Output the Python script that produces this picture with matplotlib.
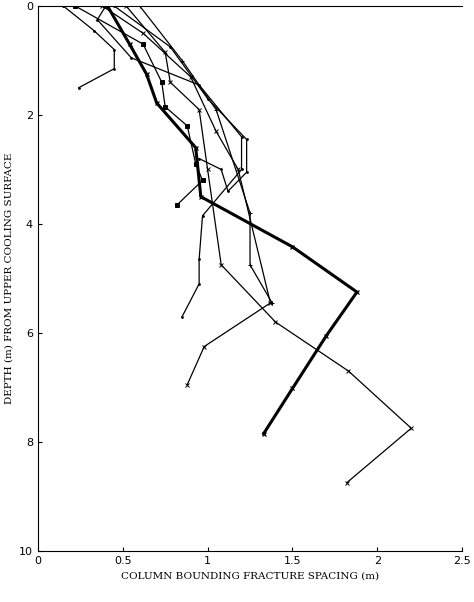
import matplotlib.pyplot as plt

# Fracture spacing (m) vs depth (m), one list per column profile
thick_x = [0.41, 0.54, 0.64, 0.70, 0.93, 0.96, 1.50, 1.88, 1.70, 1.50, 1.33]
thick_y = [0.0, 0.70, 1.25, 1.78, 2.60, 3.50, 4.42, 5.25, 6.05, 7.02, 7.85]

s1_x = [0.38, 0.62, 0.90, 1.05, 1.18, 1.37, 0.98, 0.88]
s1_y = [0.0, 0.50, 1.30, 2.30, 3.00, 5.45, 6.25, 6.95]
s2_x = [0.52, 0.75, 0.78, 0.95, 1.00, 1.08, 1.40, 1.83, 2.20, 1.82]
s2_y = [0.0, 0.85, 1.40, 1.90, 3.00, 4.75, 5.80, 6.70, 7.75, 8.75]
s3_x = [0.15, 0.33, 0.45, 0.45, 0.24]
s3_y = [0.0, 0.45, 0.80, 1.15, 1.50]
s4_x = [0.22, 0.62, 0.73, 0.75, 0.88, 0.93, 0.97, 0.82]
s4_y = [0.0, 0.70, 1.40, 1.85, 2.20, 2.90, 3.20, 3.65]
s5_x = [0.40, 0.35, 0.55, 0.95, 1.20, 1.20, 0.97, 0.95, 0.95, 0.85]
s5_y = [0.0, 0.25, 0.95, 1.45, 2.40, 3.00, 3.85, 4.65, 5.10, 5.70]
s6_x = [0.45, 0.78, 1.00, 1.23, 1.23, 1.12, 1.08, 0.95]
s6_y = [0.0, 0.75, 1.70, 2.45, 3.05, 3.40, 3.00, 2.80]
s7_x = [0.60, 0.85, 1.05, 1.25, 1.25, 1.38]
s7_y = [0.0, 1.00, 1.90, 3.80, 4.75, 5.45]

thin = [(s1_x, s1_y, 'x'), (s2_x, s2_y, 'x'), (s3_x, s3_y, '.'), (s4_x, s4_y, 's'),
        (s5_x, s5_y, '.'), (s6_x, s6_y, '.'), (s7_x, s7_y, '+')]

fig, ax = plt.subplots(figsize=(4.74, 6.02), dpi=100)
fig.subplots_adjust(left=0.08, right=0.975, top=0.99, bottom=0.085)
for xs, ys, m in thin:
    ax.plot(xs, ys, color='black', lw=0.9, marker=m, ms=2.5, mew=0.7)
ax.plot(thick_x, thick_y, color='black', lw=2.2, marker='x', ms=3.5, mew=0.9)

ax.set_xlim(0, 2.5)
ax.set_ylim(10, 0)
ax.set_xticks([0, 0.5, 1, 1.5, 2, 2.5])
ax.set_xticklabels(['0', '0.5', '1', '1.5', '2', '2.5'])
ax.set_yticks([0, 2, 4, 6, 8, 10])
ax.tick_params(labelsize=8, direction='in', length=3)
ax.spines['right'].set_visible(False)
ax.set_xlabel('COLUMN BOUNDING FRACTURE SPACING (m)', fontsize=7.5, family='serif')
ax.set_ylabel('DEPTH (m) FROM UPPER COOLING SURFACE', fontsize=7.5, family='serif')
fig.savefig('out.png', dpi=100)
